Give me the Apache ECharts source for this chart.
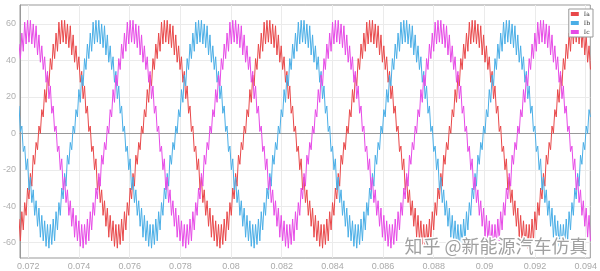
<!DOCTYPE html>
<html><head><meta charset="utf-8">
<script src="https://cdn.jsdelivr.net/npm/echarts@6/dist/echarts.min.js"></script>
<style>html,body{margin:0;padding:0;background:#fff}#c{width:600px;height:271px}</style>
</head><body><div id="c"></div><script>
const seriesNames = ['Ia', 'Ib', 'Ic'];
const seriesColors = ['#e8484a', '#4aaee6', '#e64ae6'];
// sample grid (s)
const timeStart = 0.07163;
const timeStep = 0.00005625;
const ia = [-47,-59,-43,-53,-38,-45,-30,-36,-22,-29,-12,-17,-5,-9,4,0,13,9,24,17,32,26,41,35,49,41,55,45,61,49,62,50,
62,49,60,47,59,43,54,39,48,35,42,28,34,19,26,11,15,1,4,-10,-7,-20,-14,-31,-24,-38,-31,-45,-37,-51,-41,-57,-45,-59,-48,-62,-50,-63,-50,-61,-47,-59,-43,-53,-38,-45,-30,-36,-22,-29,-12,-17,-5,-9,4,0,13,9,24,17,32,26,41,35,49,41,55,45,61,49,62,50,
62,49,60,47,59,43,54,39,48,35,42,28,34,19,26,11,15,1,4,-10,-7,-20,-14,-31,-24,-38,-31,-45,-37,-51,-41,-57,-45,-59,-48,-62,-50,-63,-50,-61,-47,-59,-43,-53,-38,-45,-30,-36,-22,-29,-12,-17,-5,-9,4,0,13,9,24,17,32,26,41,35,49,41,55,45,61,49,62,50,
62,49,60,47,59,43,54,39,48,35,42,28,34,19,26,11,15,1,4,-10,-7,-20,-14,-31,-24,-38,-31,-45,-37,-51,-41,-57,-45,-59,-48,-62,-50,-63,-50,-61,-47,-59,-43,-53,-38,-45,-30,-36,-22,-29,-12,-17,-5,-9,4,0,13,9,24,17,32,26,41,35,49,41,55,45,61,49,62,50,
62,49,60,47,59,43,54,39,48,35,42,28,34,19,26,11,15,1,4,-10,-7,-20,-14,-31,-24,-38,-31,-45,-37,-51,-41,-57,-45,-59,-48,-62,-50,-63,-50,-61,-47,-59,-43,-53,-38,-45,-30,-36,-22,-29,-12,-17,-5,-9,4,0,13,9,24,17,32,26,41,35,49,41,55,45,61,49,62,50,
62,49,60,47,59,43,54,39,48,35,42,28,34,19,26,11,15,1,4,-10,-7,-20,-14,-31,-24,-38,-31,-45,-37,-51,-41,-57,-45,-59,-48,-62,-50,-63,-50,-61,-47,-59,-43,-53,-38,-45,-30,-36,-22,-29,-12,-17,-5,-9,4,0,13,9,24,17,32,26,41,35,49,41,55,45,61,49,62,50,
62,49,60,47,59,43,54,39,48,35];
const ib = [15,1,4,-10,-7,-20,-14,-31,-24,-38,-31,-45,-37,-51,-41,-57,-45,-59,-48,-62,-50,-63,-50,-61,-47,-59,-43,-53,-38,-45,-30,-36,-22,-29,-12,-17,-5,-9,4,0,13,9,24,17,32,26,41,35,49,41,55,45,61,49,62,50,
62,49,60,47,59,43,54,39,48,35,42,28,34,19,26,11,15,1,4,-10,-7,-20,-14,-31,-24,-38,-31,-45,-37,-51,-41,-57,-45,-59,-48,-62,-50,-63,-50,-61,-47,-59,-43,-53,-38,-45,-30,-36,-22,-29,-12,-17,-5,-9,4,0,13,9,24,17,32,26,41,35,49,41,55,45,61,49,62,50,
62,49,60,47,59,43,54,39,48,35,42,28,34,19,26,11,15,1,4,-10,-7,-20,-14,-31,-24,-38,-31,-45,-37,-51,-41,-57,-45,-59,-48,-62,-50,-63,-50,-61,-47,-59,-43,-53,-38,-45,-30,-36,-22,-29,-12,-17,-5,-9,4,0,13,9,24,17,32,26,41,35,49,41,55,45,61,49,62,50,
62,49,60,47,59,43,54,39,48,35,42,28,34,19,26,11,15,1,4,-10,-7,-20,-14,-31,-24,-38,-31,-45,-37,-51,-41,-57,-45,-59,-48,-62,-50,-63,-50,-61,-47,-59,-43,-53,-38,-45,-30,-36,-22,-29,-12,-17,-5,-9,4,0,13,9,24,17,32,26,41,35,49,41,55,45,61,49,62,50,
62,49,60,47,59,43,54,39,48,35,42,28,34,19,26,11,15,1,4,-10,-7,-20,-14,-31,-24,-38,-31,-45,-37,-51,-41,-57,-45,-59,-48,-62,-50,-63,-50,-61,-47,-59,-43,-53,-38,-45,-30,-36,-22,-29,-12,-17,-5,-9,4,0,13,9,24,17,32,26,41,35,49,41,55,45,61,49,62,50,
62,49,60,47,59,43,54,39,48,35,42,28,34,19,26,11,15,1,4,-10,-7,-20,-14,-31,-24,-38,-31,-45,-37,-51,-41,-57,-45,-59,-48,-62,-50,-63,-50,-61,-47,-59,-43,-53,-38,-45,-30,-36,-22,-29,-12,-17,-5,-9,4,0,13,9];
const ic = [49,41,55,45,61,49,62,50,
62,49,60,47,59,43,54,39,48,35,42,28,34,19,26,11,15,1,4,-10,-7,-20,-14,-31,-24,-38,-31,-45,-37,-51,-41,-57,-45,-59,-48,-62,-50,-63,-50,-61,-47,-59,-43,-53,-38,-45,-30,-36,-22,-29,-12,-17,-5,-9,4,0,13,9,24,17,32,26,41,35,49,41,55,45,61,49,62,50,
62,49,60,47,59,43,54,39,48,35,42,28,34,19,26,11,15,1,4,-10,-7,-20,-14,-31,-24,-38,-31,-45,-37,-51,-41,-57,-45,-59,-48,-62,-50,-63,-50,-61,-47,-59,-43,-53,-38,-45,-30,-36,-22,-29,-12,-17,-5,-9,4,0,13,9,24,17,32,26,41,35,49,41,55,45,61,49,62,50,
62,49,60,47,59,43,54,39,48,35,42,28,34,19,26,11,15,1,4,-10,-7,-20,-14,-31,-24,-38,-31,-45,-37,-51,-41,-57,-45,-59,-48,-62,-50,-63,-50,-61,-47,-59,-43,-53,-38,-45,-30,-36,-22,-29,-12,-17,-5,-9,4,0,13,9,24,17,32,26,41,35,49,41,55,45,61,49,62,50,
62,49,60,47,59,43,54,39,48,35,42,28,34,19,26,11,15,1,4,-10,-7,-20,-14,-31,-24,-38,-31,-45,-37,-51,-41,-57,-45,-59,-48,-62,-50,-63,-50,-61,-47,-59,-43,-53,-38,-45,-30,-36,-22,-29,-12,-17,-5,-9,4,0,13,9,24,17,32,26,41,35,49,41,55,45,61,49,62,50,
62,49,60,47,59,43,54,39,48,35,42,28,34,19,26,11,15,1,4,-10,-7,-20,-14,-31,-24,-38,-31,-45,-37,-51,-41,-57,-45,-59,-48,-62,-50,-63,-50,-61,-47,-59,-43,-53,-38,-45,-30,-36,-22,-29,-12,-17,-5,-9,4,0,13,9,24,17,32,26,41,35,49,41,55,45,61,49,62,50,
62,49,60,47,59,43,54,39,48,35,42,28,34,19,26,11,15,1,4,-10,-7,-20,-14,-31,-24,-38,-31,-45,-37,-51,-41,-57,-45,-59];
const xTicks = [0.072,0.074,0.076,0.078,0.080,0.082,0.084,0.086,0.088,0.090,0.092,0.094];
const xTickLabels = ['0.072','0.074','0.076','0.078','0.08','0.082','0.084','0.086','0.088','0.09','0.092','0.094'];
const yTicks = [-60,-40,-20,0,20,40,60];
const yTickLabels = ['-60','-40','-20','0','20','40','60'];
const xMin = 0.07167, xMax = 0.09418, yMin = -68.4, yMax = 70.4;

const allValues = [ia, ib, ic];
const seriesList = seriesNames.map((name, s) => ({
  name: name,
  type: 'line',
  showSymbol: false,
  symbol: 'none',
  color: seriesColors[s],
  lineStyle: { width: 1, color: seriesColors[s] },
  data: allValues[s].map((v, i) => [timeStart + i * timeStep, v]),
  animation: false
}));

function labelFor(v, ticks, labels) {
  let best = 0, bd = Infinity;
  ticks.forEach((t, i) => { const d = Math.abs(t - v); if (d < bd) { bd = d; best = i; } });
  return labels[best];
}

const chart = echarts.init(document.getElementById('c'), null, { renderer: 'canvas' });
chart.setOption({
  animation: false,
  backgroundColor: '#fff',
  grid: { left: 19, right: 7, top: 5, bottom: 13, show: true, borderColor: '#999', borderWidth: 1 },
  legend: {
    data: seriesNames,
    orient: 'vertical',
    right: 7, top: 9,
    itemWidth: 8, itemHeight: 4, itemGap: 3,
    icon: 'rect',
    padding: [2, 3, 2, 2],
    borderColor: '#999', borderWidth: 1, backgroundColor: '#fff',
    textStyle: { fontSize: 6, color: '#333', fontFamily: 'DejaVu Serif' }
  },
  xAxis: {
    type: 'value', min: xMin, max: xMax,
    axisLine: { show: true, lineStyle: { color: '#999' } },
    axisTick: { show: false, customValues: xTicks },
    axisLabel: { customValues: xTicks, fontSize: 9, color: '#aaa', margin: 4,
      formatter: v => labelFor(v, xTicks, xTickLabels) },
    splitLine: { show: true, lineStyle: { color: '#ebebeb', width: 1 } }
  },
  yAxis: {
    type: 'value', min: yMin, max: yMax,
    axisLine: { show: true, lineStyle: { color: '#999' } },
    axisTick: { show: false, customValues: yTicks },
    axisLabel: { customValues: yTicks, fontSize: 9, color: '#b0b0b0', margin: 4,
      formatter: v => labelFor(v, yTicks, yTickLabels) },
    splitLine: { show: true, lineStyle: { color: ['#ebebeb','#ebebeb','#ebebeb','#d0d0d0','#ebebeb','#ebebeb','#ebebeb'], width: 1 } }
  },
  graphic: [{
    type: 'text', left: 403, top: 236, z: 100,
    style: { text: '知乎 @新能源汽车仿真', font: '18px "Noto Sans CJK SC"', fill: 'rgba(150,150,150,0.9)', stroke: '#fff', lineWidth: 3 }
  }],
  series: seriesList
});
</script></body></html>
